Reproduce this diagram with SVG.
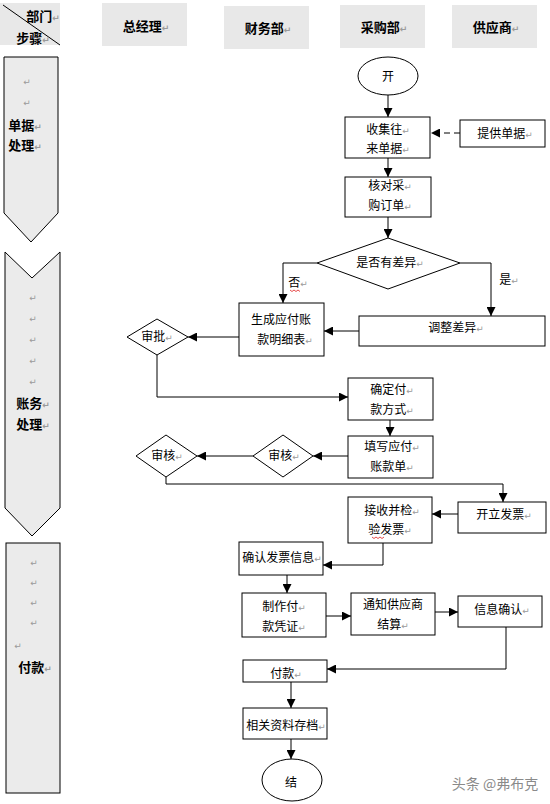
<svg xmlns="http://www.w3.org/2000/svg" width="550" height="804" viewBox="0 0 550 804">
<style>
text{font-family:"Noto Sans CJK SC","Liberation Sans",sans-serif;font-size:12px;fill:#000;text-anchor:middle}
.h{font-weight:bold;font-size:13px}
.pm{fill:#9a9a9a;font-size:9px;font-family:"DejaVu Sans",sans-serif}
.hb{fill:#e8e8e8;stroke:none}
.lane{fill:#ebebeb;stroke:#000;stroke-width:1}
.n{fill:#fff;stroke:#000;stroke-width:1}
.c{fill:none;stroke:#000;stroke-width:1}
.sq{fill:none;stroke:#e02020;stroke-width:0.8}
</style>
<defs>
<marker id="a" viewBox="0 0 10 10" refX="10" refY="5" markerWidth="9" markerHeight="9" markerUnits="userSpaceOnUse" orient="auto"><path d="M0,0 L10,5 L0,10 z" fill="#000"/></marker>
</defs>
<rect width="550" height="804" fill="#fff"/>

<g id="header">
<rect class="hb" x="0" y="3" width="60" height="42"/>
<line x1="3" y1="5" x2="60" y2="45" stroke="#000" stroke-width="1"/>
<text class="h" x="43" y="21">部门<tspan class="pm">↵</tspan></text>
<text class="h" x="33" y="43">步骤<tspan class="pm">↵</tspan></text>
<rect class="hb" x="102" y="3" width="85" height="43"/>
<text class="h" x="146" y="31">总经理<tspan class="pm">↵</tspan></text>
<rect class="hb" x="224" y="6" width="85" height="43"/>
<text class="h" x="268" y="33">财务部<tspan class="pm">↵</tspan></text>
<rect class="hb" x="340" y="5" width="85" height="43"/>
<text class="h" x="384" y="32">采购部<tspan class="pm">↵</tspan></text>
<rect class="hb" x="452" y="5" width="85" height="43"/>
<text class="h" x="496" y="32">供应商<tspan class="pm">↵</tspan></text>
</g>

<g id="lane1">
<path class="lane" d="M4,57 H58 V213 L31,242 L4,213 Z"/>
<text class="pm" x="27" y="85">↵</text>
<text class="pm" x="27" y="106">↵</text>
<text class="h" x="25" y="130">单据<tspan class="pm">↵</tspan></text>
<text class="h" x="25" y="150">处理<tspan class="pm">↵</tspan></text>
</g>
<g id="lane2">
<path class="lane" d="M5,252 L32,278 L60,252 V508 L32,536 L5,508 Z"/>
<text class="pm" x="33" y="301">↵</text>
<text class="pm" x="33" y="322">↵</text>
<text class="pm" x="33" y="343">↵</text>
<text class="pm" x="33" y="364">↵</text>
<text class="pm" x="33" y="385">↵</text>
<text class="h" x="33" y="408">账务<tspan class="pm">↵</tspan></text>
<text class="h" x="33" y="429">处理<tspan class="pm">↵</tspan></text>
</g>
<g id="lane3">
<rect class="lane" x="6" y="543" width="54" height="250"/>
<text class="pm" x="34" y="566">↵</text>
<text class="pm" x="34" y="586">↵</text>
<text class="pm" x="34" y="606">↵</text>
<text class="pm" x="34" y="626">↵</text>
<text class="pm" x="18" y="649">↵</text>
<text class="h" x="35" y="672">付款<tspan class="pm">↵</tspan></text>
</g>

<g id="start"><ellipse class="n" cx="388" cy="76" rx="30" ry="19"/><text x="388" y="81">开</text></g>
<g id="collect"><rect class="n" x="345" y="117" width="85" height="41"/><text x="388" y="134">收集往<tspan class="pm">↵</tspan></text><text x="388" y="153">来单据<tspan class="pm">↵</tspan></text></g>
<g id="provide"><rect class="n" x="460" y="120" width="85" height="27"/><text x="505" y="138">提供单据<tspan class="pm">↵</tspan></text></g>
<g id="check"><rect class="n" x="345" y="177" width="86" height="40"/><text x="390" y="190">核对采<tspan class="pm">↵</tspan></text><text x="390" y="210">购订单<tspan class="pm">↵</tspan></text></g>
<g id="diff"><polygon class="n" points="388,238 460,263 388,289 317,263"/><text x="390" y="267">是否有差异<tspan class="pm">↵</tspan></text></g>
<g id="detail"><rect class="n" x="239" y="303" width="85" height="53"/><text x="281" y="324">生成应付账</text><text x="285" y="344">款明细表<tspan class="pm">↵</tspan></text></g>
<g id="adjust"><rect class="n" x="359" y="316" width="186" height="30"/><text x="456" y="332">调整差异<tspan class="pm">↵</tspan></text></g>
<g id="approve"><polygon class="n" points="157,319 188,337 157,355 127,337"/><text x="157" y="341">审批<tspan class="pm">↵</tspan></text></g>
<g id="method"><rect class="n" x="348" y="378" width="85" height="42"/><text x="392" y="394">确定付<tspan class="pm">↵</tspan></text><text x="392" y="414">款方式<tspan class="pm">↵</tspan></text></g>
<g id="fill"><rect class="n" x="348" y="436" width="85" height="42"/><text x="392" y="451">填写应付<tspan class="pm">↵</tspan></text><text x="392" y="471">账款单<tspan class="pm">↵</tspan></text></g>
<g id="audit2"><polygon class="n" points="283,435 313,456 283,477 253,456"/><text x="284" y="460">审核<tspan class="pm">↵</tspan></text></g>
<g id="audit1"><polygon class="n" points="166,435 197,456 166,477 136,456"/><text x="167" y="460">审核<tspan class="pm">↵</tspan></text></g>
<g id="invoice"><rect class="n" x="458" y="502" width="88" height="31"/><text x="504" y="519">开立发票<tspan class="pm">↵</tspan></text></g>
<g id="receive"><rect class="n" x="348" y="497" width="84" height="46"/><text x="392" y="515">接收并检<tspan class="pm">↵</tspan></text><text x="390" y="534">验发票<tspan class="pm">↵</tspan></text></g>
<g id="confirm"><rect class="n" x="239" y="542" width="84" height="33"/><text x="282" y="562">确认发票信息<tspan class="pm">↵</tspan></text></g>
<g id="voucher"><rect class="n" x="242" y="593" width="84" height="44"/><text x="284" y="611">制作付<tspan class="pm">↵</tspan></text><text x="284" y="631">款凭证<tspan class="pm">↵</tspan></text></g>
<g id="notify"><rect class="n" x="351" y="593" width="84" height="42"/><text x="393" y="609">通知供应商</text><text x="393" y="629">结算<tspan class="pm">↵</tspan></text></g>
<g id="infoconfirm"><rect class="n" x="458" y="596" width="84" height="31"/><text x="502" y="614">信息确认<tspan class="pm">↵</tspan></text></g>
<g id="pay"><rect class="n" x="243" y="660" width="84" height="22"/><text x="286" y="678">付款<tspan class="pm">↵</tspan></text></g>
<g id="archive"><rect class="n" x="243" y="708" width="84" height="31"/><text x="286" y="730">相关资料存档<tspan class="pm">↵</tspan></text></g>
<g id="end"><ellipse class="n" cx="292" cy="780" rx="30" ry="21"/><text x="291" y="787">结</text></g>

<g id="connectors">
<path class="c" d="M388,95 V117" marker-end="url(#a)"/>
<path class="c" d="M460,133 H431" stroke-dasharray="6,4" marker-end="url(#a)"/>
<path class="c" d="M388,158 V177" marker-end="url(#a)"/>
<path class="c" d="M388,217 V238" marker-end="url(#a)"/>
<path class="c" d="M317,263 H283 V303" marker-end="url(#a)"/>
<path class="c" d="M460,263 H491 V316" marker-end="url(#a)"/>
<path class="c" d="M359,331 H324" marker-end="url(#a)"/>
<path class="c" d="M239,337 H188" marker-end="url(#a)"/>
<path class="c" d="M157,355 V397 H348" marker-end="url(#a)"/>
<path class="c" d="M390,420 V436" marker-end="url(#a)"/>
<path class="c" d="M348,456 H313" marker-end="url(#a)"/>
<path class="c" d="M253,456 H197" marker-end="url(#a)"/>
<path class="c" d="M166,477 V484 H503 V502" marker-end="url(#a)"/>
<path class="c" d="M458,514 H432" marker-end="url(#a)"/>
<path class="c" d="M383,543 V565 H323" marker-end="url(#a)"/>
<path class="c" d="M287,575 V593" marker-end="url(#a)"/>
<path class="c" d="M326,616 H351" marker-end="url(#a)"/>
<path class="c" d="M435,612 H458" marker-end="url(#a)"/>
<path class="c" d="M506,627 V669 H327" marker-end="url(#a)"/>
<path class="c" d="M291,682 V708" marker-end="url(#a)"/>
<path class="c" d="M291,739 V759" marker-end="url(#a)"/>
<text x="298" y="287">否<tspan class="pm">↵</tspan></text>
<text x="509" y="284">是<tspan class="pm">↵</tspan></text>
</g>
<path class="sq" d="M290,290 l2,1.5 l2,-1.5 l2,1.5 l2,-1.5 l2,1.5"/>
<path class="sq" d="M372,537 l2,1.5 l2,-1.5 l2,1.5 l2,-1.5 l2,1.5 l2,-1.5"/>
<text x="495" y="789" style="font-size:14px;fill:#8a8a8a">头条 @弗布克</text>
</svg>
